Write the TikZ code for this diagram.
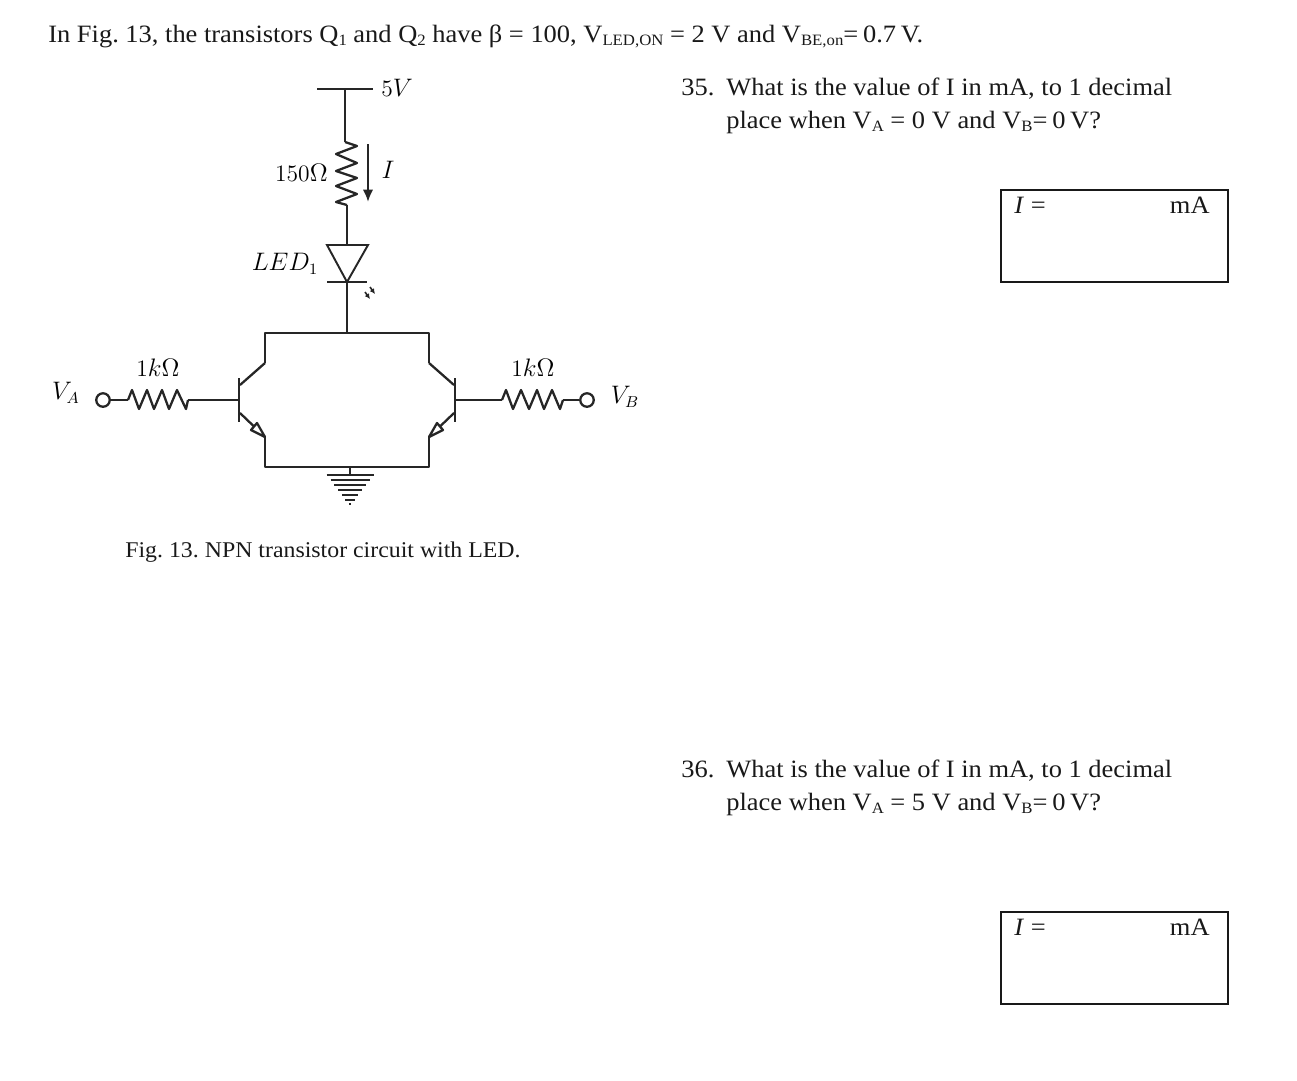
\documentclass[tikz,border=0pt]{standalone}
\usepackage{fontspec}
\newfontfamily\bodyfont{Liberation Serif}[FakeStretch=1.06]
\usetikzlibrary{arrows.meta}
\frenchspacing
\newcommand{\lowtxt}[1]{\raisebox{-0.3ex}{\fontsize{9}{11}\selectfont #1}}
\newcommand{\tightsp}[1]{{\spaceskip=0.19em #1}}
\tikzset{
  wire/.style={draw=black!85,line width=1.3pt,line join=round},
  thinwire/.style={draw=black!85,line width=0.9pt},
  bodytext/.style={anchor=base west,inner sep=0pt,text=black!90,font=\bodyfont\fontsize{14.2}{17}\selectfont},
  circtext/.style={inner sep=0pt,text=black,font=\fontsize{13.4}{16}\selectfont},
  terminal/.style={circle,draw=black!85,line width=1.3pt,minimum size=0.27cm,inner sep=0pt},
  answerbox/.style={draw=black!90,line width=1.1pt,minimum width=4.54cm,minimum height=1.84cm,anchor=north west,inner sep=0pt}
}
\begin{document}
\begin{tikzpicture}[x=0.02cm,y=-0.02cm]
\useasboundingbox (0,0) rectangle (1297,1080);
% text
\node[bodytext] (intro) at (48,42) {In Fig. 13, the transistors Q\lowtxt{1} and Q\lowtxt{2} have β = 100, V\lowtxt{LED,ON} = 2 V and V\lowtxt{BE,on}\tightsp{ = 0.7 V.}};
\node[bodytext] (num1) at (681,95) {35.};
\node[bodytext] (q1a) at (726,95) {What is the value of I in mA, to 1 decimal};
\node[bodytext] (q1b) at (726,128) {place when V\lowtxt{A} = 0 V and V\lowtxt{B}\tightsp{ = 0 V?}};
\node[bodytext] (num2) at (681,777) {36.};
\node[bodytext] (q2a) at (726,777) {What is the value of I in mA, to 1 decimal};
\node[bodytext] (q2b) at (726,810) {place when V\lowtxt{A} = 5 V and V\lowtxt{B}\tightsp{ = 0 V?}};
\node[bodytext,font=\bodyfont\fontsize{12.8}{15}\selectfont] (caption) at (125,557) {Fig. 13. NPN transistor circuit with LED.};
% answer boxes
\node[answerbox] (box1) at (999.7,188.7) {};
\node[answerbox] (box2) at (999.7,910.7) {};
\node[bodytext] (i1) at (1014,213) {\textit{I} =};
\node[bodytext,anchor=base east] (ma1) at (1210,213) {mA};
\node[bodytext] (i2) at (1014,935) {\textit{I} =};
\node[bodytext,anchor=base east] (ma2) at (1210,935) {mA};
% points of the circuit
\coordinate (supl) at (317,89);
\coordinate (supr) at (373,89);
\coordinate (sup) at (345,89);
\coordinate (rtop) at (345,142);
\coordinate (rbot) at (347,205);
\coordinate (ledtop) at (347,245);
\coordinate (ledl) at (327,245);
\coordinate (ledr) at (368,245);
\coordinate (ledtip) at (347,282);
\coordinate (barl) at (327,282);
\coordinate (barr) at (367,282);
\coordinate (topjoin) at (347,333);
\coordinate (topl) at (265,333);
\coordinate (topr) at (429,333);
\coordinate (botl) at (265,467);
\coordinate (botr) at (429,467);
\coordinate (gnd) at (350,467);
\coordinate (gndbar) at (350,475);
% left transistor
\coordinate (cl) at (265,363);
\coordinate (el) at (265,437);
\coordinate (bl) at (239,400);
\coordinate (bltop) at (239,378);
\coordinate (blbot) at (239,422);
\coordinate (clin) at (240,385);
\coordinate (elin) at (240,413);
\coordinate (hl1) at (251,430);
\coordinate (hl2) at (257,423);
% right transistor
\coordinate (cr) at (429,363);
\coordinate (er) at (429,437);
\coordinate (br) at (455,400);
\coordinate (brtop) at (455,378);
\coordinate (brbot) at (455,422);
\coordinate (crin) at (454,385);
\coordinate (erin) at (454,413);
\coordinate (hr1) at (443,430);
\coordinate (hr2) at (437,423);
% input resistors
\coordinate (ral) at (128,400);
\coordinate (rar) at (188,400);
\coordinate (rbl) at (502,400);
\coordinate (rbr) at (563,400);
\node[terminal] (ta) at (103,400) {};
\node[terminal] (tb) at (587,400) {};
% current arrow
\coordinate (itop) at (368,144);
\coordinate (ibot) at (368,202);
% wires
\draw[wire] (supl) -- (supr);
\draw[wire] (sup) -- (rtop);
\draw[wire] (rtop) -- (357,146) -- (336,154) -- (357,163) -- (336,171) -- (357,178) -- (336,186) -- (357,194) -- (336,202) -- (rbot);
\draw[wire] (rbot) -- (ledtop);
\draw[thinwire,line width=1.1pt] (ledl) -- (ledr) -- (ledtip) -- cycle;
\draw[wire] (barl) -- (barr);
\draw[wire] (ledtip) -- (topjoin);
\draw[wire] (cl) -- (topl) -- (topr) -- (cr);
\draw[wire] (el) -- (botl) -- (botr) -- (er);
\draw[wire] (clin) -- (cl);
\draw[wire] (elin) -- (el);
\draw[wire] (bltop) -- (blbot);
\draw[wire] (crin) -- (cr);
\draw[wire] (erin) -- (er);
\draw[wire] (brtop) -- (brbot);
\draw[wire,fill=white] (el) -- (hl1) -- (hl2) -- cycle;
\draw[wire,fill=white] (er) -- (hr1) -- (hr2) -- cycle;
\draw[wire] (ta) -- (ral);
\draw[wire] (ral) -- (132,390) -- (139,409) -- (147,390) -- (154,409) -- (162,390) -- (169,409) -- (177,390) -- (186,409) -- (rar);
\draw[wire] (rar) -- (bl);
\draw[wire] (br) -- (rbl);
\draw[wire] (rbl) -- (506,390) -- (513,409) -- (521,390) -- (529,409) -- (537,390) -- (544,409) -- (552,390) -- (560,409) -- (rbr);
\draw[wire] (rbr) -- (tb);
% ground
\draw[wire] (gnd) -- (gndbar);
\foreach \yy/\hw in {475/23.5,480/19.5,485/16,490/12,495/8,500/5,504/1}
  \draw[thinwire] (350-\hw,\yy) -- (350+\hw,\yy);
% arrows
\draw[wire,-{Latex[length=7pt,width=6pt]}] (itop) -- (ibot);
\draw[thinwire,-{Latex[length=3pt,width=3pt]}] (370,287) -- (375,294);
\draw[thinwire,-{Latex[length=3pt,width=3pt]}] (365,292) -- (370,299);
% labels
\node[circtext] (five) at (397,88) {5$V$};
\node[circtext] (cur) at (388,170) {$I$};
\node[circtext,anchor=east] (rs) at (328,173) {150$\Omega$};
\node[circtext] (led) at (285,264) {$LED_1$};
\node[circtext] (ra) at (158,368) {1$k\Omega$};
\node[circtext] (rb) at (533,368) {1$k\Omega$};
\node[circtext] (va) at (66,393) {$V_A$};
\node[circtext] (vb) at (625,397) {$V_B$};
\end{tikzpicture}
\end{document}
